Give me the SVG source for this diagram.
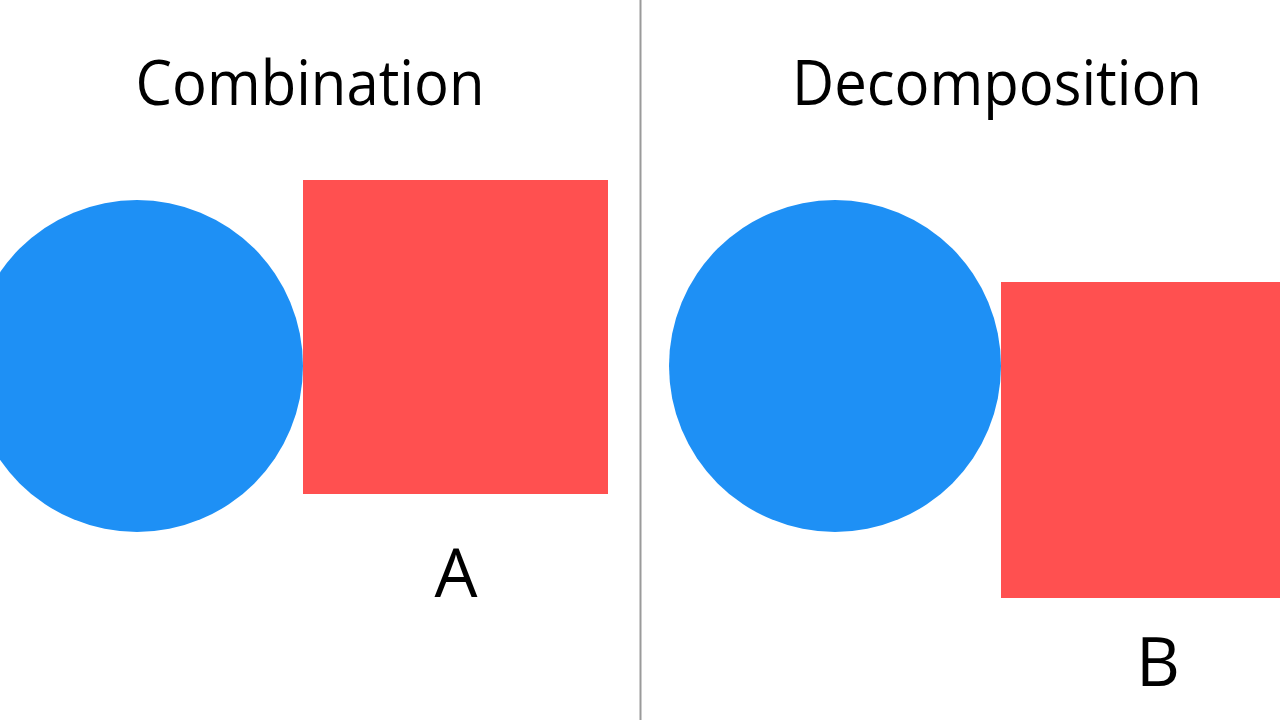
<svg xmlns="http://www.w3.org/2000/svg" width="1280" height="720" viewBox="0 0 1280 720">
<style>
.t{font-family:"Open Sans","Noto Sans",sans-serif;fill:#000;text-anchor:middle}
.circ{fill:#1E90F5}
.sq{fill:#FF5050}
</style>
<rect width="1280" height="720" fill="#fff"/>
<line x1="640.5" y1="0" x2="640.5" y2="720" stroke="#9a9a9a" stroke-width="2"/>
<g id="left">
<text class="t" x="310" y="105" font-size="62" textLength="349" lengthAdjust="spacingAndGlyphs">Combination</text>
<circle id="circleA" class="circ" cx="137" cy="366" r="166"/>
<rect id="squareA" class="sq" x="303" y="180" width="305" height="314"/>
<text class="t" x="456" y="597" font-size="68">A</text>
</g>
<g id="right">
<text class="t" x="997" y="105" font-size="62" textLength="410" lengthAdjust="spacingAndGlyphs">Decomposition</text>
<circle id="circleB" class="circ" cx="835" cy="366" r="166"/>
<rect id="squareB" class="sq" x="1001" y="282" width="279" height="316"/>
<text class="t" x="1158" y="686" font-size="68">B</text>
</g>
</svg>
